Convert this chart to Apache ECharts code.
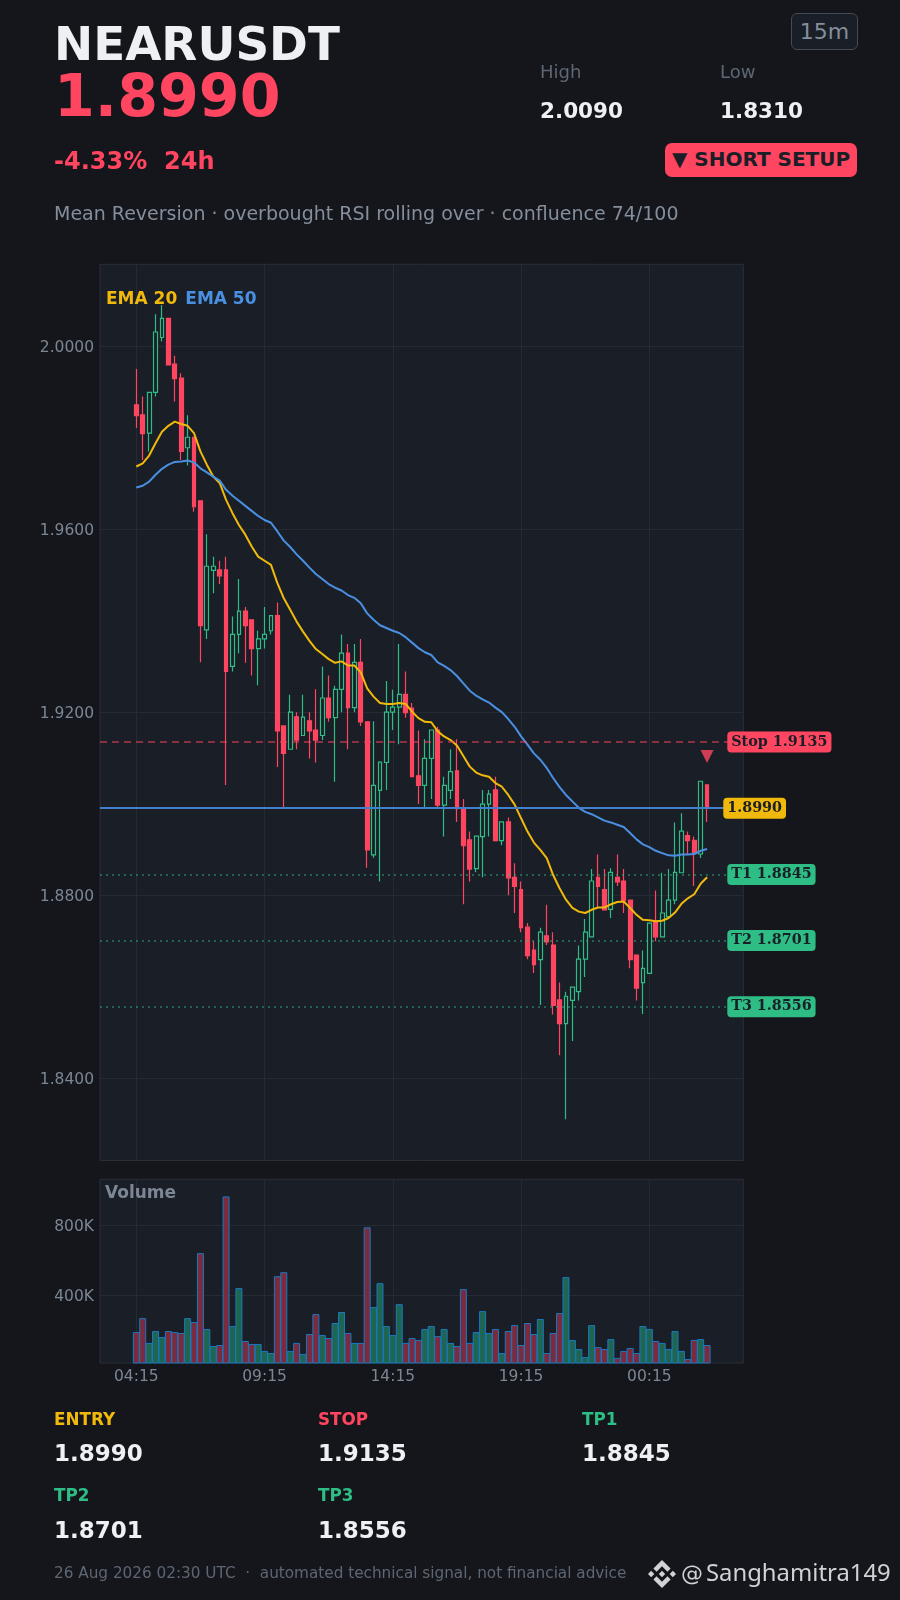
<!DOCTYPE html>
<html>
<head>
<meta charset="utf-8">
<title>NEARUSDT</title>
<script src="https://cdn.jsdelivr.net/npm/echarts@6/dist/echarts.min.js"></script>
<style>
html,body{margin:0;padding:0;background:#14161b;width:900px;height:1600px;overflow:hidden;font-family:"DejaVu Sans",sans-serif}
#chart{position:absolute;left:0;top:0;width:900px;height:1600px}
.t{position:absolute;white-space:pre;line-height:1;transform:translateY(-50%);z-index:2}
.b{font-weight:bold}
#tf{position:absolute;left:791px;top:13px;width:65px;height:35px;background:#1a1e26;border:1px solid #444a56;border-radius:6px;color:#848e9c;font-size:22px;line-height:35px;text-align:center;z-index:2}
#setup{position:absolute;left:665px;top:143px;width:192px;height:34px;background:#ff4560;border-radius:7px;color:#1a1e26;font-size:20px;font-weight:bold;line-height:32px;text-align:center;white-space:pre;z-index:2}
#logo{position:absolute;left:648px;top:1560px;z-index:2}
</style>
</head>
<body>
<div id="chart"></div>
<div class="t b" style="left:54px;top:44px;font-size:46.8px;color:#eef0f3">NEARUSDT</div>
<div class="t b" style="left:54px;top:96px;font-size:58.7px;color:#ff4560">1.8990</div>
<div class="t b" style="left:54px;top:161px;font-size:24px;color:#ff4560">-4.33%</div>
<div class="t b" style="left:164px;top:161px;font-size:24px;color:#ff4560">24h</div>
<div class="t" style="left:540px;top:72px;font-size:18px;color:#5e6673">High</div>
<div class="t" style="left:720px;top:72px;font-size:18px;color:#5e6673">Low</div>
<div class="t b" style="left:540px;top:111px;font-size:21.5px;color:#eef0f3">2.0090</div>
<div class="t b" style="left:720px;top:111px;font-size:21.5px;color:#eef0f3">1.8310</div>
<div id="tf">15m</div>
<div id="setup">▼ SHORT SETUP</div>
<div class="t" style="left:54px;top:213px;font-size:19px;color:#848e9c">Mean Reversion · overbought RSI rolling over · confluence 74/100</div>

<div class="t b" style="left:54px;top:1419px;font-size:16.8px;color:#f0b90b">ENTRY</div>
<div class="t b" style="left:54px;top:1453px;font-size:23px;color:#eef0f3">1.8990</div>
<div class="t b" style="left:318px;top:1419px;font-size:16.8px;color:#ff4560">STOP</div>
<div class="t b" style="left:318px;top:1453px;font-size:23px;color:#eef0f3">1.9135</div>
<div class="t b" style="left:582px;top:1419px;font-size:16.8px;color:#2ebd85">TP1</div>
<div class="t b" style="left:582px;top:1453px;font-size:23px;color:#eef0f3">1.8845</div>
<div class="t b" style="left:54px;top:1495px;font-size:16.8px;color:#2ebd85">TP2</div>
<div class="t b" style="left:54px;top:1530px;font-size:23px;color:#eef0f3">1.8701</div>
<div class="t b" style="left:318px;top:1495px;font-size:16.8px;color:#2ebd85">TP3</div>
<div class="t b" style="left:318px;top:1530px;font-size:23px;color:#eef0f3">1.8556</div>

<div class="t" style="left:54px;top:1574px;font-size:15.25px;color:#5e6673">26 Aug 2026 02:30 UTC  ·  automated technical signal, not financial advice</div>
<svg id="logo" width="28" height="28" viewBox="0 0 126.61 126.61" fill="#d0d2d6">
  <path d="M38.73 53.2l24.59-24.58 24.6 24.6 14.3-14.31L63.32 0 24.43 38.9z M0 63.31l14.3-14.31 14.31 14.31-14.31 14.3z M38.73 73.41l24.59 24.59 24.6-24.6 14.31 14.29-38.9 38.91-38.91-38.88-.02-.02z M98 63.31l14.3-14.31 14.31 14.3-14.31 14.32z M77.83 63.3L63.32 48.78 52.59 59.51l-1.24 1.23-2.54 2.54 14.51 14.5 14.51-14.47z"/>
</svg>
<div class="t" style="left:681px;top:1574px;font-size:22px;color:#d0d2d6">@</div>
<div class="t" style="left:706px;top:1573px;font-size:23.85px;font-family:'Noto Sans';color:#d0d2d6">Sanghamitra149</div>

<script>
var timeLabels = ['04:15','09:15','14:15','19:15','00:15'];
var timeTickIndex = [0,20,40,60,80];
var priceTicks = [1.84,1.88,1.92,1.96,2.00];
var volumeTicks = [400000,800000];
var levelEntry = 1.8990, levelStop = 1.9135, levelT1 = 1.8845, levelT2 = 1.8701, levelT3 = 1.8556;
var signalPrice = 1.9103;

var opens = [
1.9872,1.9850,1.9810,1.9899,2.0019,2.0061,1.9961,1.9930,1.9778,1.9801,
1.9662,1.9380,1.9510,1.9511,1.9511,1.9300,1.9370,1.9421,1.9402,1.9339,
1.9360,1.9378,1.9411,1.9170,1.9119,1.9190,1.9149,1.9181,1.9161,1.9149,
1.9231,1.9188,1.9250,1.9329,1.9210,1.9309,1.9179,1.8888,1.9029,1.9090,
1.9200,1.9211,1.9239,1.9209,1.9061,1.9040,1.9099,1.9161,1.8997,1.9029,
1.9072,1.8991,1.8921,1.8858,1.8928,1.8999,1.9030,1.8919,1.8960,1.8839,
1.8812,1.8730,1.8680,1.8659,1.8711,1.8691,1.8571,1.8519,1.8570,1.8589,
1.8660,1.8709,1.8839,1.8812,1.8769,1.8839,1.8831,1.8789,1.8669,1.8609,
1.8629,1.8743,1.8709,1.8753,1.8789,1.8849,1.8930,1.8920,1.8890,1.9041];
var highs = [
1.9950,1.9890,1.9899,2.0070,2.0090,2.0061,1.9979,1.9941,1.9849,1.9801,
1.9662,1.9589,1.9540,1.9531,1.9540,1.9409,1.9491,1.9430,1.9402,1.9378,
1.9430,1.9411,1.9440,1.9170,1.9238,1.9200,1.9238,1.9200,1.9250,1.9300,
1.9280,1.9258,1.9370,1.9349,1.9349,1.9360,1.9180,1.9180,1.9091,1.9268,
1.9249,1.9349,1.9289,1.9220,1.9160,1.9141,1.9161,1.9168,1.9059,1.9119,
1.9141,1.9010,1.8939,1.8929,1.9030,1.9030,1.9059,1.8960,1.8970,1.8870,
1.8830,1.8739,1.8699,1.8729,1.8779,1.8719,1.8609,1.8589,1.8599,1.8690,
1.8748,1.8857,1.8889,1.8857,1.8859,1.8889,1.8857,1.8789,1.8669,1.8679,
1.8739,1.8810,1.8849,1.8857,1.8959,1.8979,1.8939,1.8928,1.9049,1.9041];
var lows = [
1.9821,1.9751,1.9770,1.9890,2.0010,1.9959,1.9879,1.9751,1.9739,1.9638,
1.9309,1.9360,1.9460,1.9480,1.9041,1.9289,1.9329,1.9308,1.9280,1.9259,
1.9339,1.9370,1.9080,1.8992,1.9119,1.9119,1.9149,1.9099,1.9090,1.9139,
1.9179,1.9048,1.9200,1.9119,1.9200,1.9170,1.8860,1.8882,1.8830,1.9030,
1.9161,1.9130,1.9188,1.9059,1.8999,1.8992,1.9010,1.8992,1.8928,1.9010,
1.8960,1.8780,1.8830,1.8850,1.8839,1.8928,1.8919,1.8909,1.8800,1.8761,
1.8719,1.8660,1.8630,1.8560,1.8691,1.8539,1.8450,1.8310,1.8481,1.8570,
1.8621,1.8709,1.8773,1.8768,1.8750,1.8820,1.8761,1.8640,1.8570,1.8540,
1.8629,1.8699,1.8709,1.8753,1.8780,1.8849,1.8889,1.8820,1.8881,1.8960];
var closes = [
1.9848,1.9809,1.9899,2.0031,2.0061,1.9959,1.9929,1.9770,1.9801,1.9649,
1.9389,1.9519,1.9519,1.9498,1.9289,1.9370,1.9421,1.9389,1.9339,1.9360,
1.9370,1.9411,1.9159,1.9110,1.9200,1.9139,1.9189,1.9159,1.9139,1.9231,
1.9188,1.9250,1.9329,1.9210,1.9309,1.9179,1.8899,1.9040,1.9091,1.9200,
1.9211,1.9239,1.9199,1.9059,1.9040,1.9099,1.9161,1.8997,1.9040,1.9070,
1.8989,1.8908,1.8857,1.8929,1.8999,1.9021,1.8919,1.8960,1.8838,1.8819,
1.8729,1.8668,1.8648,1.8719,1.8698,1.8559,1.8519,1.8579,1.8599,1.8660,
1.8719,1.8831,1.8819,1.8768,1.8850,1.8829,1.8788,1.8659,1.8597,1.8640,
1.8739,1.8709,1.8761,1.8789,1.8850,1.8940,1.8919,1.8892,1.9049,1.8990];
var ema20 = [
1.9737,1.9744,1.9761,1.9788,1.9813,1.9826,1.9835,1.9830,1.9826,1.9810,
1.9770,1.9741,1.9715,1.9701,1.9664,1.9635,1.9609,1.9588,1.9562,1.9540,
1.9531,1.9522,1.9482,1.9449,1.9424,1.9398,1.9376,1.9356,1.9338,1.9327,
1.9316,1.9308,1.9311,1.9302,1.9302,1.9287,1.9252,1.9234,1.9220,1.9218,
1.9218,1.9220,1.9218,1.9201,1.9187,1.9179,1.9178,1.9158,1.9147,1.9139,
1.9127,1.9104,1.9081,1.9068,1.9062,1.9059,1.9045,1.9037,1.9019,1.8998,
1.8968,1.8939,1.8915,1.8899,1.8881,1.8844,1.8815,1.8790,1.8772,1.8764,
1.8761,1.8768,1.8773,1.8773,1.8780,1.8785,1.8786,1.8772,1.8757,1.8746,
1.8745,1.8743,1.8744,1.8750,1.8762,1.8781,1.8793,1.8802,1.8825,1.8839];
var ema50 = [
1.9691,1.9695,1.9704,1.9719,1.9732,1.9741,1.9747,1.9748,1.9750,1.9746,
1.9733,1.9724,1.9715,1.9706,1.9686,1.9673,1.9662,1.9651,1.9640,1.9629,
1.9620,1.9614,1.9595,1.9575,1.9561,1.9545,1.9531,1.9516,1.9502,1.9491,
1.9480,1.9472,1.9466,1.9456,1.9450,1.9438,1.9416,1.9402,1.9390,1.9384,
1.9378,1.9373,1.9364,1.9352,1.9340,1.9331,1.9325,1.9309,1.9301,1.9292,
1.9279,1.9263,1.9247,1.9236,1.9228,1.9221,1.9210,1.9200,1.9185,1.9168,
1.9147,1.9129,1.9110,1.9096,1.9078,1.9056,1.9036,1.9019,1.9005,1.8991,
1.8982,1.8977,1.8970,1.8963,1.8959,1.8954,1.8949,1.8936,1.8922,1.8911,
1.8905,1.8897,1.8892,1.8887,1.8886,1.8889,1.8889,1.8890,1.8897,1.8901];
var volumes = [
188,268,126,194,160,194,188,183,268,246,
640,206,108,114,965,223,440,137,120,120,
80,68,508,531,80,126,63,177,291,171,
154,240,303,183,126,126,788,331,468,223,
171,348,126,154,143,206,223,165,206,126,
108,434,126,188,308,183,206,68,194,228,
114,240,177,263,68,183,297,503,143,91,
45,228,102,91,148,40,80,97,68,223,
206,137,126,91,194,80,34,143,148,114];

var RED='#ff4560', GREEN='#2ebd85', AMBER='#f0b90b', BLUE='#4a90e2', PLOT='#1a1e26', GRID='#262a33', EDGE='#2a2e37', MUTED='#7d8694';
var xMin=-5.66, xMax=94.65;
var idx = opens.map(function(_,i){return i;});
var candles = idx.map(function(i){return [i,opens[i],closes[i],lows[i],highs[i]];});
var volumeBars = idx.map(function(i){
  return {value:[i,volumes[i]*1000], itemStyle:{color: closes[i]>=opens[i] ? '#1e6650' : '#7b2b3d'}};
});
function pts(a){return a.map(function(v,i){return [i,v];});}
function lvl(value,text,bg,off,lineStyle){
  return {yAxis:value,name:text,lineStyle:lineStyle,
    label:{show:true,position:'end',distance:0,offset:[off,0],formatter:text,color:'#1a1e26',
      backgroundColor:bg,borderRadius:4,padding:[4,4,3,4],
      fontFamily:'"DejaVu Serif",serif',fontWeight:'bold',fontSize:14.3}};
}
var tickRich = {a:{color:MUTED,fontFamily:'"DejaVu Sans"',fontSize:15.5,padding:[4,0,0,0]}};
var stopColor='rgba(255,69,96,0.65)', targetColor='rgba(46,189,133,0.6)';
var chart = echarts.init(document.getElementById('chart'),null,{width:900,height:1600});
chart.setOption({
  animation:false,
  backgroundColor:'#14161b',
  legend:{show:true,left:96,top:286,itemWidth:0,itemHeight:0,itemGap:3,selectedMode:false,icon:'rect',
    data:[{name:'EMA 20',textStyle:{color:AMBER}},{name:'EMA 50',textStyle:{color:BLUE}}],
    textStyle:{fontFamily:'"DejaVu Sans"',fontWeight:'bold',fontSize:17}},
  grid:[
    {left:100,top:264.3,width:643.3,height:896.2,show:true,backgroundColor:PLOT,borderColor:EDGE,borderWidth:1},
    {left:100,top:1179.3,width:643.3,height:183.7,show:true,backgroundColor:PLOT,borderColor:EDGE,borderWidth:1}
  ],
  xAxis:[
    {type:'value',gridIndex:0,min:xMin,max:xMax,axisLine:{show:false},
     axisTick:{show:false,customValues:timeTickIndex},axisLabel:{show:false,customValues:timeTickIndex},
     splitLine:{show:true,lineStyle:{color:GRID,width:1}}},
    {type:'value',gridIndex:1,min:xMin,max:xMax,axisLine:{show:false},
     axisTick:{show:false,customValues:timeTickIndex},
     axisLabel:{show:true,customValues:timeTickIndex,margin:6,color:MUTED,fontFamily:'"DejaVu Sans"',fontSize:15.5,
       formatter:function(v){return timeLabels[timeTickIndex.indexOf(v)];}},
     splitLine:{show:true,lineStyle:{color:GRID,width:1}}}
  ],
  yAxis:[
    {type:'value',gridIndex:0,min:1.8220,max:2.0179,axisLine:{show:false},
     axisTick:{show:false,customValues:priceTicks},
     axisLabel:{show:true,customValues:priceTicks,margin:6,rich:tickRich,
       formatter:function(v){return '{a|'+v.toFixed(4)+'}';}},
     splitLine:{show:true,lineStyle:{color:GRID,width:1}}},
    {type:'value',gridIndex:1,min:11000,max:1063000,axisLine:{show:false},
     axisTick:{show:false,customValues:volumeTicks},
     axisLabel:{show:true,customValues:volumeTicks,margin:6,rich:tickRich,
       formatter:function(v){return '{a|'+Math.round(v/1000)+'K}';}},
     splitLine:{show:true,lineStyle:{color:GRID,width:1}}}
  ],
  graphic:[{type:'text',left:105,top:1185,z:50,style:{text:'Volume',fill:'#7d8694',font:'bold 17px "DejaVu Sans"'}}],
  series:[
    {type:'candlestick',name:'NEARUSDT',xAxisIndex:0,yAxisIndex:0,data:candles,barWidth:4.3,
     encode:{x:0,y:[1,2,3,4]},
     itemStyle:{color:PLOT,color0:RED,borderColor:GREEN,borderColor0:RED,borderWidth:1.2},
     markLine:{silent:true,symbol:'none',z:6,precision:4,data:[
       lvl(levelStop,'Stop '+levelStop.toFixed(4),RED,-16,{color:stopColor,type:[7,5],width:1.5}),
       lvl(levelEntry,levelEntry.toFixed(4),AMBER,-20,{color:'#4080cc',type:'solid',width:2}),
       lvl(levelT1,'T1 '+levelT1.toFixed(4),GREEN,-16,{color:targetColor,type:[2,4],width:1.5}),
       lvl(levelT2,'T2 '+levelT2.toFixed(4),GREEN,-16,{color:targetColor,type:[2,4],width:1.5}),
       lvl(levelT3,'T3 '+levelT3.toFixed(4),GREEN,-16,{color:targetColor,type:[2,4],width:1.5})
     ]}},
    {type:'line',name:'EMA 20',xAxisIndex:0,yAxisIndex:0,data:pts(ema20),showSymbol:false,symbol:'none',z:4,
     lineStyle:{color:AMBER,width:2},itemStyle:{color:AMBER}},
    {type:'line',name:'EMA 50',xAxisIndex:0,yAxisIndex:0,data:pts(ema50),showSymbol:false,symbol:'none',z:4,
     lineStyle:{color:BLUE,width:2},itemStyle:{color:BLUE}},
    {type:'scatter',name:'Signal',xAxisIndex:0,yAxisIndex:0,z:7,symbol:'triangle',symbolRotate:180,symbolSize:[13,13],
     data:[[idx.length-1,signalPrice]],itemStyle:{color:RED}},
    {type:'bar',name:'Volume',xAxisIndex:1,yAxisIndex:1,data:volumeBars,barMinWidth:7,barMaxWidth:7,
     itemStyle:{borderColor:'#1a78c2',borderWidth:1}}
  ]
});
</script>
</body>
</html>
